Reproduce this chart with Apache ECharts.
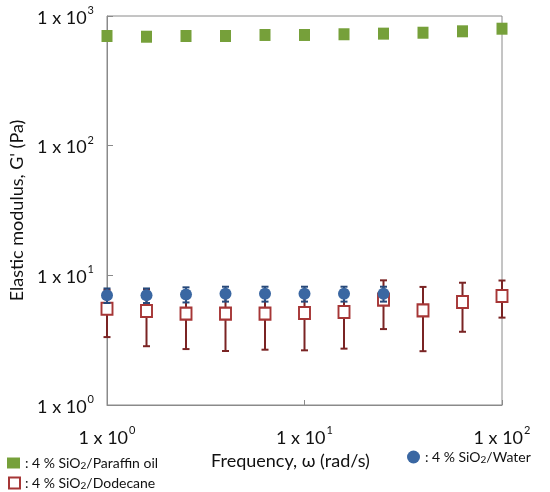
<!DOCTYPE html>
<html>
<head>
<meta charset="utf-8">
<script src="https://cdn.jsdelivr.net/npm/echarts@6/dist/echarts.min.js"></script>
<style>
html,body{margin:0;padding:0;background:#fff;}
#c{width:550px;height:492px;}
</style>
</head>
<body>
<div id="c"></div>
<script>
// Frequency (rad/s)
const freq = [1, 1.585, 2.512, 3.981, 6.31, 10, 15.85, 25.12, 39.81, 63.1, 100];
// Elastic modulus G' (Pa)
const paraffin = [701, 692, 701, 701, 714, 714, 723, 731, 743, 762, 798];
const water = [7.02, 7.02, 7.13, 7.22, 7.22, 7.22, 7.22, 7.22];
const waterSd = [0.9, 0.9, 0.95, 0.95, 0.95, 0.95, 0.95, 0.95];
const dodecane = [5.53, 5.31, 5.07, 5.07, 5.07, 5.12, 5.21, 6.50, 5.37, 6.22, 6.92];
const dodecaneSd = [2.19, 2.47, 2.37, 2.46, 2.40, 2.48, 2.49, 2.65, 2.77, 2.55, 2.2];
const seriesNames = ['4 % SiO2/Paraffin oil', '4 % SiO2/Dodecane', '4 % SiO2/Water'];
const xTicks = [1, 10, 100];
const yTicks = [1, 10, 100, 1000];

const FONT = 'Lato';
const GREEN = '#76A03A', BLUE = '#3A67A2', RED = '#A63636', DRED = '#7A2424', DBLUE = '#27497A';

function pts(xs, ys) { return ys.map((v, i) => [xs[i], v]); }
function errs(xs, ys, sd) { return ys.map((v, i) => [xs[i], v - sd[i], v + sd[i]]); }

function errRender(color) {
  return function (params, api) {
    const lo = api.coord([api.value(0), api.value(1)]);
    const hi = api.coord([api.value(0), api.value(2)]);
    const w = 3.5;
    const st = { stroke: color, lineWidth: 2 };
    return {
      type: 'group',
      children: [
        { type: 'line', shape: { x1: lo[0], y1: lo[1], x2: hi[0], y2: hi[1] }, style: st },
        { type: 'line', shape: { x1: lo[0] - w, y1: lo[1], x2: lo[0] + w, y2: lo[1] }, style: st },
        { type: 'line', shape: { x1: hi[0] - w, y1: hi[1], x2: hi[0] + w, y2: hi[1] }, style: st }
      ]
    };
  };
}

function powLabel(v) {
  return '{b|1 x 10}{s|' + Math.round(Math.log10(v)) + '}';
}
const tickRich = {
  b: { fontFamily: FONT, fontSize: 18, color: '#111', lineHeight: 22, verticalAlign: 'bottom' },
  s: { fontFamily: FONT, fontSize: 11, color: '#111', lineHeight: 22, verticalAlign: 'top', padding: [0, 0, 9, 1] }
};
const legRich = {
  s: { fontFamily: FONT, fontSize: 10, color: '#111', padding: [6, 0, 0, 0] }
};
function legFmt(name) {
  return ': ' + name.replace('SiO2', 'SiO{s|2}');
}
const legText = { fontFamily: FONT, fontSize: 14, color: '#111', rich: legRich };

const chart = echarts.init(document.getElementById('c'));
chart.setOption({
  animation: false,
  backgroundColor: '#fff',
  grid: { left: 107, right: 48, top: 16, bottom: 87, show: true, borderColor: '#8a8a8a', borderWidth: 1 },
  xAxis: {
    type: 'log', logBase: 10, min: xTicks[0], max: xTicks[xTicks.length - 1],
    name: 'Frequency, ω (rad/s)', nameLocation: 'middle', nameGap: 45,
    nameTextStyle: { fontFamily: FONT, fontSize: 18, color: '#111', padding: [0, 28, 0, 0] },
    axisLine: { lineStyle: { color: '#8a8a8a' } },
    axisTick: { inside: true, length: 5, lineStyle: { color: '#8a8a8a' } },
    splitLine: { show: false },
    minorTick: { show: false },
    axisLabel: { margin: 20, formatter: powLabel, rich: tickRich }
  },
  yAxis: {
    type: 'log', logBase: 10, min: yTicks[0], max: yTicks[yTicks.length - 1],
    name: "Elastic modulus, G' (Pa)", nameLocation: 'middle', nameGap: 80,
    nameTextStyle: { fontFamily: FONT, fontSize: 18, color: '#111' },
    axisLine: { lineStyle: { color: '#8a8a8a' } },
    axisTick: { inside: true, length: 6, lineStyle: { color: '#8a8a8a' } },
    splitLine: { show: false },
    axisLabel: { margin: 13, formatter: powLabel, rich: tickRich }
  },
  legend: [
    {
      data: [{ name: seriesNames[0], icon: 'rect', itemStyle: { color: GREEN } }],
      left: 7, top: 456, padding: 0, itemWidth: 13, itemHeight: 11, itemGap: 2,
      formatter: legFmt, textStyle: legText
    },
    {
      data: [{ name: seriesNames[1], icon: 'rect', itemStyle: { color: '#fff', borderColor: RED, borderWidth: 2 } }],
      left: 8, top: 476, padding: 0, itemWidth: 11, itemHeight: 11, itemGap: 2,
      formatter: legFmt, textStyle: legText
    },
    {
      data: [{ name: seriesNames[2], icon: 'circle', itemStyle: { color: BLUE } }],
      left: 407, top: 450, padding: 0, itemWidth: 13, itemHeight: 13, itemGap: 2,
      formatter: legFmt, textStyle: legText
    }
  ],
  series: [
    {
      name: 'dodecaneErr', type: 'custom', renderItem: errRender(DRED),
      data: errs(freq, dodecane, dodecaneSd), encode: { x: 0, y: [1, 2] }, z: 2, clip: false
    },
    {
      name: seriesNames[1], type: 'scatter', data: pts(freq, dodecane),
      symbol: 'rect', symbolSize: [11, 12],
      itemStyle: { color: '#fff', borderColor: RED, borderWidth: 2, opacity: 1 }, z: 3
    },
    {
      name: 'waterErr', type: 'custom', renderItem: errRender(DBLUE),
      data: errs(freq, water, waterSd), encode: { x: 0, y: [1, 2] }, z: 4, clip: false
    },
    {
      name: seriesNames[2], type: 'scatter', data: pts(freq, water),
      symbol: 'circle', symbolSize: 12,
      itemStyle: { color: BLUE, opacity: 1 }, z: 5
    },
    {
      name: seriesNames[0], type: 'scatter', data: pts(freq, paraffin),
      symbol: 'rect', symbolSize: [11, 12],
      itemStyle: { color: GREEN, opacity: 1 }, z: 5
    }
  ]
});
</script>
</body>
</html>
